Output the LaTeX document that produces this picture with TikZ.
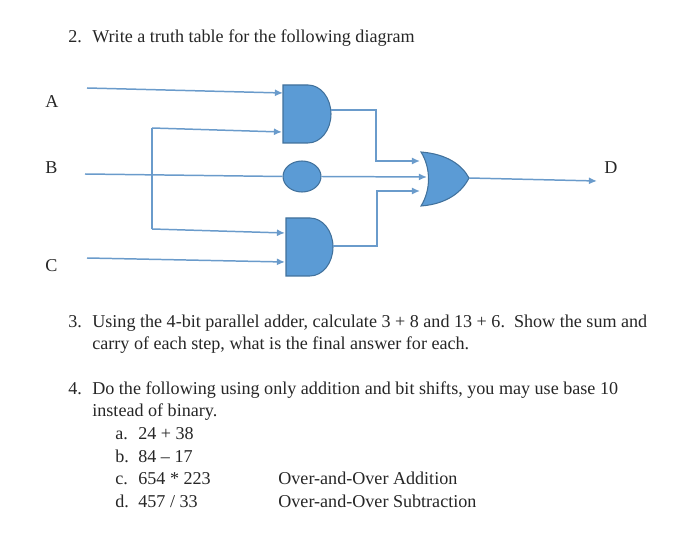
\documentclass[tikz,border=0pt]{standalone}
\usepackage{fontspec}
\setmainfont{Liberation Serif}
\usepackage{tikz}
\usetikzlibrary{arrows.meta,shapes.geometric}
\definecolor{gatefill}{HTML}{5B9BD5}
\definecolor{gateline}{HTML}{41719C}
\definecolor{wirecol}{HTML}{6A9BCB}
\newcommand{\numlabel}[1]{\makebox[0.48cm][l]{#1}}
\newcommand{\letlabel}[1]{\makebox[0.46cm][l]{#1}}
\tikzset{
  txt/.style={anchor=base west,inner sep=0pt,font=\fontsize{10.3pt}{12pt}\selectfont,text=black!85},
  gate/.style={fill=gatefill,draw=gateline,line width=0.6pt},
  wire/.style={draw=wirecol,line width=0.85pt,line join=miter},
  arr/.style={wire,-{Latex[length=4.6pt,width=4pt]}}
}
\begin{document}
\begin{tikzpicture}[x=0.02cm,y=-0.02cm]
\useasboundingbox (0,0) rectangle (700,550);
\node[txt] (Q2) at (68,42.5) {\numlabel{2.}Write a truth table for the following diagram};
\node[txt] (LA) at (45,108) {A};
\node[txt] (LB) at (45,174) {B};
\node[txt] (LC) at (45,272) {C};
\node[txt] (LD) at (604,173.5) {D};
% gates
\draw[gate] (283,85) -- (308,85) arc (90:-90:0.46cm and 0.58cm) -- (283,143) -- cycle;
\draw[gate] (286,218) -- (310,218) arc (90:-90:0.46cm and 0.58cm) -- (286,276) -- cycle;
\draw[gate] (421,152) .. controls (447,154) and (462,165) .. (469,178) .. controls (462,192) and (447,204) .. (421,206) .. controls (431,190) and (431,168) .. (421,152) -- cycle;
\node[gate,ellipse,minimum width=0.76cm,minimum height=0.62cm,inner sep=0pt] (NOTB) at (302,176.5) {};
% ends
\coordinate (A0) at (87,88);
\coordinate (A1) at (283,93);
\coordinate (B0) at (85,174);
\coordinate (C0) at (87,258);
\coordinate (C1) at (285,262);
\coordinate (T0) at (152,128);
\coordinate (T1) at (282,132);
\coordinate (U0) at (152,229);
\coordinate (U1) at (285,233);
\coordinate (AND1) at (331,110);
\coordinate (AND2) at (333,246);
\coordinate (OR1) at (420,161);
\coordinate (OR2) at (427,177);
\coordinate (OR3) at (420,191);
\coordinate (ORO) at (469,178);
\coordinate (OUT) at (597,181);
% wires
\draw[arr] (A0) -- (A1);
\draw[wire] (B0) -- (NOTB.west);
\draw[arr] (C0) -- (C1);
\draw[wire] (T0) -- (U0);
\draw[arr] (T0) -- (T1);
\draw[arr] (U0) -- (U1);
\draw[arr] (AND1) -- (376,110) -- (376,161) -- (OR1);
\draw[arr] (NOTB.east) -- (OR2);
\draw[arr] (AND2) -- (377,246) -- (377,191) -- (OR3);
\draw[arr] (ORO) -- (OUT);
% questions
\node[txt] (Q3) at (68,328) {\numlabel{3.}Using the 4-bit parallel adder, calculate 3 + 8 and 13 + 6.\ \ Show the sum and};
\node[txt] (Q3b) at (92,350) {carry of each step, what is the final answer for each.};
\node[txt] (Q4) at (68,395) {\numlabel{4.}Do the following using only addition and bit shifts, you may use base 10};
\node[txt] (Q4b) at (92,417) {instead of binary.};
\node[txt] (a) at (115,439.5) {\letlabel{a.}24 + 38};
\node[txt] (b) at (115,462) {\letlabel{b.}84 -- 17};
\node[txt] (c) at (115,484) {\letlabel{c.}654 * 223};
\node[txt] (d) at (115,507) {\letlabel{d.}457 / 33};
\node[txt] (OA) at (278,484) {Over-and-Over Addition};
\node[txt] (OS) at (278,507) {Over-and-Over Subtraction};
\end{tikzpicture}
\end{document}
